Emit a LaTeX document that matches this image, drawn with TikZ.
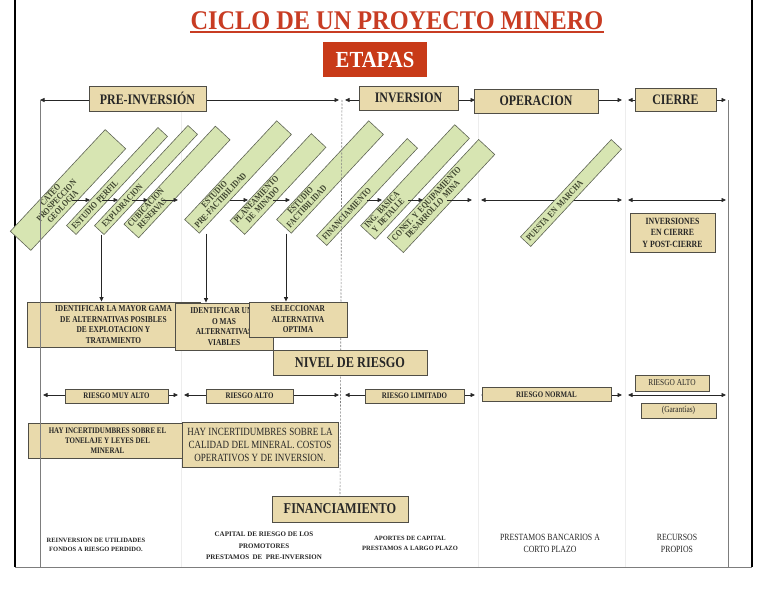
\documentclass[tikz,border=0pt]{standalone}
\usepackage{fontspec}
\setmainfont{Liberation Serif}
\newfontfamily\angosta[FakeStretch=0.82]{Liberation Serif}
\newfontfamily\titular[FakeStretch=0.9]{Liberation Serif}
\usetikzlibrary{arrows.meta}

\definecolor{rojotitulo}{RGB}{200,60,35}
\definecolor{rojoetapa}{RGB}{200,58,24}
\definecolor{beige}{RGB}{233,218,172}
\definecolor{verdeclaro}{RGB}{215,229,178}
\definecolor{bordecaja}{RGB}{80,78,70}
\definecolor{bordeverde}{RGB}{95,100,85}
\definecolor{textoverde}{RGB}{60,66,45}
\definecolor{gris}{RGB}{125,125,125}

\newcommand{\lineas}[1]{\begin{tabular}{@{}c@{}}#1\end{tabular}}

\tikzset{
  caja/.style={draw=bordecaja, fill=beige, line width=0.9pt, inner sep=1pt, align=center, text=black!85},
  fase/.style={draw=bordeverde, fill=verdeclaro, line width=0.6pt, rotate=47, inner xsep=3pt, inner ysep=0pt,
    align=left, text=textoverde, font=\angosta\bfseries\fontsize{9}{8.5}\selectfont},
  riesgo/.style={caja, minimum height=14pt, font=\angosta\bfseries\fontsize{8.5}{9}\selectfont},
  nota/.style={align=center, text=black!85},
  flecha/.style={->, line width=0.7pt, black!85},
  doble/.style={<->, line width=0.7pt, black!85, shorten <=3pt, shorten >=3pt},
  guia/.style={gris, line width=0.6pt},
  tenue/.style={black!7, line width=0.8pt},
}

\begin{document}
\begin{tikzpicture}[x=1pt, y=-1pt, >={Triangle[length=4.5pt,width=4pt]}]
\useasboundingbox (0,0) rectangle (768,594);

% columnas y filas
\coordinate (k0) at (40,0);
\coordinate (k1) at (181,0);
\coordinate (k2) at (342,0);
\coordinate (k3) at (478,0);
\coordinate (k4) at (625,0);
\coordinate (k5) at (728,0);
\coordinate (f1) at (0,100);
\coordinate (f2) at (0,200);
\coordinate (f3) at (0,395);
\coordinate (f4) at (0,567);

% marco
\draw[tenue] (k1 |- f1) -- (k1 |- f4);
\draw[tenue] (k3 |- f1) -- (k3 |- f4);
\draw[tenue] (k4 |- f1) -- (k4 |- f4);
\draw[guia] (15,567) -- (752,567);
\draw[line width=1.6pt] (15,0) -- (15,567);
\draw[line width=1.6pt] (752,0) -- (752,567);

% titulo
\node[inner sep=0pt, text=rojotitulo, font=\titular\bfseries\fontsize{27}{30}\selectfont] (titulo) at (397,20.5) {CICLO DE UN PROYECTO MINERO};
\draw[rojotitulo, line width=1.6pt] ([yshift=-2.5pt]titulo.south west) -- ([yshift=-2.5pt]titulo.south east);
\node[fill=rojoetapa, minimum width=104pt, minimum height=35pt, text=white, font=\titular\bfseries\fontsize{23}{25}\selectfont] (etapas) at (375,59.5) {ETAPAS};

% etapas
\draw[doble, shorten <=0pt] (k0 |- f1) -- (k2 |- f1);
\draw[doble] (k2 |- f1) -- (k3 |- f1);
\draw[doble] (k3 |- f1) -- (k4 |- f1);
\draw[doble, shorten >=2pt] (k4 |- f1) -- (k5 |- f1);
\node[caja, minimum width=117pt, minimum height=25pt, font=\angosta\bfseries\fontsize{14.5}{16}\selectfont] (preinv) at (147.5,98.5) {PRE-INVERSIÓN};
\node[caja, minimum width=99pt, minimum height=24pt, font=\angosta\bfseries\fontsize{14.5}{16}\selectfont] (inver) at (408.5,98) {INVERSION};
\node[caja, minimum width=124pt, minimum height=24pt, font=\angosta\bfseries\fontsize{14.5}{16}\selectfont] (opera) at (536,101) {OPERACION};
\node[caja, minimum width=81pt, minimum height=23pt, font=\angosta\bfseries\fontsize{14.5}{16}\selectfont] (cierre) at (675.5,99.5) {CIERRE};

% fases
\draw[doble] (k3 |- f2) -- (k4 |- f2);
\draw[doble, shorten >=2pt] (k4 |- f2) -- (k5 |- f2);
\node[fase, text width=133pt, minimum height=28pt] (cateo) at (68,190) {\hspace*{24pt}\lineas{CATEO\\PROSPECCION\\GEOLOGIA}};
\node[fase, text width=128pt, minimum height=13pt] (perfil) at (117,181) {ESTUDIO PERFIL};
\node[fase, text width=131pt, minimum height=13pt] (explora) at (146,180) {\hspace*{3pt}EXPLORACION};
\node[fase, text width=128pt, minimum height=20pt] (cubica) at (177,182) {\lineas{CUBICACION\\RESERVAS}};
\node[fase, text width=129pt, minimum height=20pt] (prefact) at (238,177) {\lineas{ESTUDIO\\PRE-FACTIBILIDAD}};
\node[fase, text width=113pt, minimum height=20pt] (planea) at (278,184) {\lineas{PLANEAMIENTO\\DE MINADO}};
\node[fase, text width=129pt, minimum height=20pt] (factib) at (330,177) {\lineas{ESTUDIO\\FACTIBILIDAD}};
\node[fase, text width=127pt, minimum height=14pt] (finanza) at (367,192) {FINANCIAMIENTO};
\node[fase, text width=132pt, minimum height=20pt] (ingbas) at (415,182) {\lineas{ING. BASICA\\Y DETALLE}};
\node[fase, text width=128pt, minimum height=22pt] (constr) at (441,196) {\lineas{CONST. Y EQUIPAMIENTO\\DESARROLLO MINA}};
\node[fase, text width=127pt, minimum height=14pt] (puesta) at (571,193) {PUESTA EN MARCHA};
\draw[flecha] (72,200) -- (90,200);
\draw[flecha] (102,200) -- (118,200);
\draw[flecha] (132,200) -- (148,200);
\draw[flecha] (162,200) -- (178,200);
\draw[flecha] (230,200) -- (248,200);
\draw[flecha] (273,200) -- (290,200);
\draw[flecha] (367,200) -- (382,200);
\draw[flecha] (408,200) -- (423,200);
\draw[flecha] (447,200) -- (472,200);
\node[caja, minimum width=85pt, minimum height=39pt, font=\angosta\bfseries\fontsize{9.5}{11.5}\selectfont] (postcierre) at (672.5,232.5) {INVERSIONES\\EN CIERRE\\Y POST-CIERRE};

% financiamiento
\node[caja, minimum width=136pt, minimum height=26pt, font=\angosta\bfseries\fontsize{15}{17}\selectfont] (financ) at (340,509) {FINANCIAMIENTO};
\draw[guia, dash pattern=on 2pt off 1.5pt] (k2 |- f1) -- (financ.north);

% alternativas
\node[caja, minimum width=173pt, minimum height=45pt, font=\angosta\bfseries\fontsize{9}{10.5}\selectfont] (gama) at (113.5,324.5) {IDENTIFICAR LA MAYOR GAMA\\DE ALTERNATIVAS POSIBLES\\DE EXPLOTACION Y\\TRATAMIENTO};
\node[caja, minimum width=98pt, minimum height=47pt, font=\angosta\bfseries\fontsize{9}{10.5}\selectfont] (viables) at (224,326.5) {IDENTIFICAR UNA\\O MAS\\ALTERNATIVAS\\VIABLES};
\node[caja, minimum width=98pt, minimum height=35pt, font=\angosta\bfseries\fontsize{9}{10.5}\selectfont] (optima) at (298,319.5) {SELECCIONAR\\ALTERNATIVA\\OPTIMA};
\node[caja, minimum width=154pt, minimum height=25pt, font=\angosta\bfseries\fontsize{15}{17}\selectfont] (nivel) at (350,362.5) {NIVEL DE RIESGO};
\coordinate (v1) at ([xshift=-12pt]gama.north);
\coordinate (v2) at ([xshift=-18pt]viables.north);
\coordinate (v3) at ([xshift=-12pt]optima.north);
\draw[flecha] (v1 |- explora.south west) -- (v1);
\draw[flecha] (v2 |- prefact.south west) -- (v2);
\draw[flecha] (v3 |- factib.south west) -- (v3);

% riesgo
\draw[doble] (k0 |- f3) -- (k1 |- f3);
\draw[doble] (k1 |- f3) -- (k2 |- f3);
\draw[doble] (k2 |- f3) -- (k3 |- f3);
\draw[doble] (k3 |- f3) -- (k4 |- f3);
\draw[doble, shorten >=2pt] (k4 |- f3) -- (k5 |- f3);
\node[riesgo, minimum width=103pt] (muyalto) at (116.5,396) {RIESGO MUY ALTO};
\node[riesgo, minimum width=87pt] (alto) at (249.5,396) {RIESGO ALTO};
\node[riesgo, minimum width=99pt] (limitado) at (414.5,396) {RIESGO LIMITADO};
\node[riesgo, minimum width=129pt] (normal) at (546.5,394.5) {RIESGO NORMAL};
\node[riesgo, minimum width=74pt, minimum height=16pt, font=\angosta\fontsize{9}{10}\selectfont] (altocierre) at (672,383) {RIESGO ALTO};
\node[riesgo, minimum width=75pt, minimum height=15pt, font=\angosta\fontsize{9}{10}\selectfont] (garantia) at (678.5,410.5) {(Garantías)};
\node[caja, minimum width=159pt, minimum height=35pt, font=\angosta\bfseries\fontsize{8.5}{10}\selectfont] (tonelaje) at (107.5,440.5) {HAY INCERTIDUMBRES SOBRE EL\\TONELAJE Y LEYES DEL\\MINERAL};
\node[caja, minimum width=156pt, minimum height=45pt, font=\angosta\fontsize{11}{13}\selectfont] (calidad) at (260,444.5) {HAY INCERTIDUMBRES SOBRE LA\\CALIDAD DEL MINERAL. COSTOS\\OPERATIVOS Y DE INVERSION.};

% fuentes
\node[nota, font=\bfseries\fontsize{6.5}{9.5}\selectfont] (fuente1) at (96,545) {REINVERSION DE UTILIDADES\\FONDOS A RIESGO PERDIDO.};
\node[nota, font=\bfseries\fontsize{7}{11.5}\selectfont] (fuente2) at (264,546) {CAPITAL DE RIESGO DE LOS\\PROMOTORES\\PRESTAMOS \ DE \ PRE-INVERSION};
\node[nota, font=\bfseries\fontsize{6.5}{10}\selectfont] (fuente3) at (410,543) {APORTES DE CAPITAL\\PRESTAMOS A LARGO PLAZO};
\node[nota, font=\angosta\fontsize{9.5}{12}\selectfont] (fuente4) at (550,543) {PRESTAMOS BANCARIOS A\\CORTO PLAZO};
\node[nota, font=\angosta\fontsize{9.5}{12}\selectfont] (fuente5) at (677,543) {RECURSOS\\PROPIOS};

% lineas laterales
\draw[guia] (k0 |- f1) -- (k0 |- f4);
\draw[guia] (k5 |- f1) -- (k5 |- f4);
\end{tikzpicture}
\end{document}
